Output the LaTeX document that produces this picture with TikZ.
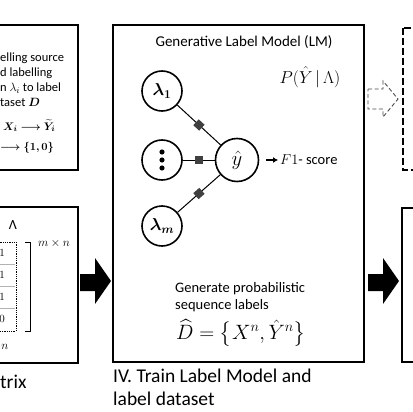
\documentclass[tikz,border=0pt]{standalone}
\usepackage{amsmath,bm}
\usepackage{fontspec}
\setmainfont{Carlito}
\usetikzlibrary{arrows.meta}
\tikzset{
  panel/.style={draw, line width=2.4pt},
  var/.style={draw, circle, line width=1.6pt, minimum size=40pt, inner sep=0pt, font=\fontsize{17}{19}\selectfont},
  factor/.style={fill=black!75, minimum size=8pt, inner sep=0pt, sloped},
  edge/.style={line width=1pt},
  frag/.style={anchor=base west, inner sep=0pt, font=\fontsize{12.5}{14}\selectfont},
  captext/.style={anchor=north west, inner sep=0pt, align=left, font=\fontsize{19.5}{23}\selectfont},
  blockarrow/.style={fill=black},
}
\begin{document}
\begin{tikzpicture}[x=1pt,y=-1pt]
\useasboundingbox (0,0) rectangle (412,412);
\fill[white] (0,0) rectangle (412,412);
% panels
\draw[panel] (-10,25) rectangle (78,170);
\draw[panel] (-10,207) rectangle (78,363);
\draw[panel] (113,25) rectangle (364,362);
\draw[panel, dash pattern=on 7pt off 3pt] (403,28) rectangle (430,170);
\draw[panel] (402,208) rectangle (430,362);
% labelling source (cut)
\node[frag] (src1) at (0,61) {elling source};
\node[frag] (src2) at (0,77) {d labelling};
\node[frag] (src3) at (0,92) {n $\lambda_i$ to label};
\node[frag] (src4) at (0,106) {taset $\bm{D}$};
\node[frag, font=\fontsize{11}{13}\selectfont] (map1) at (3,130) {$\bm{X_i \longrightarrow \widetilde{Y}_i}$};
\node[frag, font=\fontsize{11}{13}\selectfont] (map2) at (0,150) {$\bm{\longrightarrow \{1,0\}}$};
% label matrix (cut)
\node[inner sep=0pt, font=\fontsize{14}{16}\selectfont] (lam) at (13,225) {Λ};
\draw[densely dotted, thick] (-10,242) rectangle (16,331);
\foreach \y in {264,286,308}
  \draw[black!30] (-10,\y) -- (15,\y);
\foreach \v/\y [count=\i] in {1/253,1/275,1/297,0/319}
  \node[anchor=east, inner sep=0pt, font=\fontsize{11}{13}\selectfont] (cell\i) at (5,\y) {$\v$};
\draw[thick] (25,242) -- (30,242) -- (30,331) -- (25,331);
\node[inner sep=0pt, font=\fontsize{12}{14}\selectfont] (dim) at (54,243) {$m \times n$};
\node[inner sep=0pt, font=\fontsize{12}{14}\selectfont] (ncol) at (5,347) {$n$};
\node[anchor=west, inner sep=0pt, font=\fontsize{19.5}{22}\selectfont] (mcap) at (0,382) {trix};
% block arrows
\fill[blockarrow] (80,274) -- (95,274) -- (95,258) -- (111,281) -- (95,304) -- (95,291) -- (80,291) -- cycle;
\fill[blockarrow] (368,274) -- (383,274) -- (383,258) -- (399,281) -- (383,304) -- (383,291) -- (368,291) -- cycle;
\draw[black!70, line width=0.9pt, dash pattern=on 4pt off 2.5pt] (368,89) -- (383,89) -- (383,81) -- (398,99) -- (383,117) -- (383,109) -- (368,109) -- cycle;
% label model
\node[inner sep=0pt, font=\fontsize{15}{18}\selectfont] (title) at (244,42) {Generative Label Model (LM)};
\node[inner sep=0pt, font=\fontsize{19}{22}\selectfont] (post) at (310,77) {$P(\hat{Y}\,|\,\Lambda)$};
\node[var] (l1) at (162,91) {$\bm{\lambda_1}$};
\node[var] (ld) at (162,160) {};
\foreach \d in {-8,0,8}
  \fill (ld.center) ++(0,\d) circle (2.6pt);
\node[var] (lm) at (162,226) {$\bm{\lambda_m}$};
\node[var, minimum size=43pt, font=\fontsize{20}{22}\selectfont] (yhat) at (237,160) {$\hat{y}$};
\draw[edge] (l1) -- node[factor] {} (yhat);
\draw[edge] (ld) -- node[factor] {} (yhat);
\draw[edge] (lm) -- node[factor] {} (yhat);
\node[anchor=west, inner sep=2pt, font=\fontsize{14.5}{17}\selectfont] (f1) at (278,160) {$F1$- score};
\draw[line width=1.2pt, -{Latex[length=5pt,width=6pt]}, shorten <=7pt] (yhat) -- (f1);
\node[anchor=north west, inner sep=0pt, align=left, font=\fontsize{14.5}{17.5}\selectfont] (gen) at (175,282) {Generate probabilistic\\sequence labels};
\node[inner sep=0pt, font=\fontsize{21}{24}\selectfont] (dhat) at (241,333) {$\widehat{D} = \bigl\{X^n, \hat{Y}^n\bigr\}$};
\node[captext] (lmcap) at (113,369) {IV. Train Label Model and\\label dataset};
\end{tikzpicture}
\end{document}
